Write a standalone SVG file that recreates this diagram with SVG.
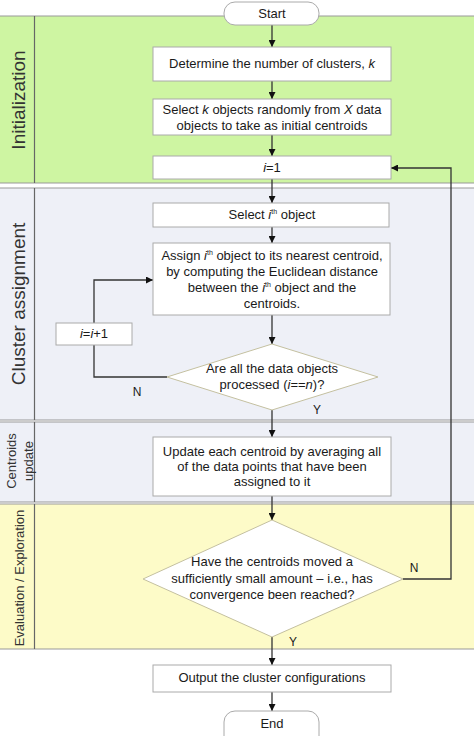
<svg xmlns="http://www.w3.org/2000/svg" width="474" height="736" viewBox="0 0 474 736">
<style>
text{font-family:"Liberation Sans",Arial,sans-serif;fill:#1a1a1a}
.t{font-size:13px;text-anchor:middle}
.lane{font-size:19px;text-anchor:middle;fill:#333}
.lane2{font-size:13px;text-anchor:middle;fill:#333}
.box{fill:#fff;stroke:#aaa;stroke-width:1}
.dia{fill:#fff;stroke:#c4c0a0;stroke-width:1}
.band{stroke:#999;stroke-width:1}
.div{stroke:#666;stroke-width:1.2}
.c{fill:none;stroke:#333;stroke-width:1.3}
.lbl{font-size:12px;text-anchor:middle}
</style>
<defs>
<marker id="ah" viewBox="0 0 10 10" refX="10" refY="5" markerWidth="7" markerHeight="7" markerUnits="userSpaceOnUse" orient="auto">
<path d="M0,0 L10,5 L0,10 z" fill="#111"/>
</marker>
</defs>
<rect width="474" height="736" fill="#fff"/>
<g id="lanes">
<rect class="band" x="-1" y="16" width="476" height="167" fill="#cef5a2"/>
<rect class="band" x="-1" y="188" width="476" height="232" fill="#eef0f7"/>
<rect class="band" x="-1" y="422" width="476" height="80" fill="#eef0f7"/>
<rect class="band" x="-1" y="504" width="476" height="145" fill="#fdfbc8"/>
<line class="div" x1="34.5" y1="16" x2="34.5" y2="183"/>
<line class="div" x1="34.5" y1="188" x2="34.5" y2="420"/>
<line class="div" x1="34.5" y1="422" x2="34.5" y2="502"/>
<line class="div" x1="34.5" y1="504" x2="34.5" y2="649"/>
<text class="lane" transform="translate(25,100) rotate(-90)">Initialization</text>
<text class="lane" transform="translate(25,304) rotate(-90)">Cluster assignment</text>
<text class="lane2" transform="translate(16,461) rotate(-90)">Centroids</text>
<text class="lane2" transform="translate(33,461) rotate(-90)">update</text>
<text class="lane2" transform="translate(24,578) rotate(-90)">Evaluation / Exploration</text>
</g>
<g id="connectors">
<line class="c" x1="272" y1="25" x2="272" y2="47" marker-end="url(#ah)"/>
<line class="c" x1="272" y1="81" x2="272" y2="99" marker-end="url(#ah)"/>
<line class="c" x1="272" y1="135" x2="272" y2="156" marker-end="url(#ah)"/>
<line class="c" x1="272" y1="179" x2="272" y2="203" marker-end="url(#ah)"/>
<line class="c" x1="272" y1="227" x2="272" y2="243" marker-end="url(#ah)"/>
<line class="c" x1="272" y1="315" x2="272" y2="344" marker-end="url(#ah)"/>
<line class="c" x1="272" y1="410" x2="272" y2="437" marker-end="url(#ah)"/>
<line class="c" x1="272" y1="496" x2="272" y2="520" marker-end="url(#ah)"/>
<line class="c" x1="272" y1="637" x2="272" y2="665" marker-end="url(#ah)"/>
<line class="c" x1="272" y1="692" x2="272" y2="711" marker-end="url(#ah)"/>
<polyline class="c" points="167,377 94,377 94,280 153,280" marker-end="url(#ah)"/>
<polyline class="c" points="403,579 451,579 451,168 391,168" marker-end="url(#ah)"/>
<text class="lbl" x="137" y="396">N</text>
<text class="lbl" x="317" y="414">Y</text>
<text class="lbl" x="414" y="572">N</text>
<text class="lbl" x="293" y="646">Y</text>
</g>
<g id="start">
<rect class="box" x="224" y="2" width="95" height="23" rx="11"/>
<text class="t" x="272" y="18">Start</text>
</g>
<g id="determine">
<rect class="box" x="153" y="47" width="238" height="34"/>
<text class="t" x="272" y="68">Determine the number of clusters, <tspan font-style="italic">k</tspan></text>
</g>
<g id="select-k">
<rect class="box" x="153" y="99" width="238" height="36"/>
<text class="t" x="272" y="114">Select <tspan font-style="italic">k</tspan> objects randomly from <tspan font-style="italic">X</tspan> data</text>
<text class="t" x="272" y="130">objects to take as initial centroids</text>
</g>
<g id="i-init">
<rect class="box" x="153" y="156" width="238" height="23"/>
<text class="t" x="272" y="172"><tspan font-style="italic">i</tspan>=1</text>
</g>
<g id="select-ith">
<rect class="box" x="153" y="203" width="236" height="24"/>
<text class="t" x="272" y="219">Select <tspan font-style="italic">i</tspan><tspan font-size="7" dy="-5">th</tspan><tspan dy="5"> object</tspan></text>
</g>
<g id="assign">
<rect class="box" x="153" y="243" width="237" height="72"/>
<text class="t" x="272" y="260">Assign <tspan font-style="italic">i</tspan><tspan font-size="7" dy="-5">th</tspan><tspan dy="5"> object to its nearest centroid,</tspan></text>
<text class="t" x="272" y="276">by computing the Euclidean distance</text>
<text class="t" x="272" y="292">between the <tspan font-style="italic">i</tspan><tspan font-size="7" dy="-5">th</tspan><tspan dy="5"> object and the</tspan></text>
<text class="t" x="272" y="308">centroids.</text>
</g>
<g id="increment">
<rect class="box" x="56" y="323" width="76" height="22"/>
<text class="t" x="94" y="338"><tspan font-style="italic">i</tspan>=<tspan font-style="italic">i</tspan>+1</text>
</g>
<g id="all-processed">
<polygon class="dia" points="272,344 378,377 272,410 167,377"/>
<text class="t" x="272" y="373">Are all the data objects</text>
<text class="t" x="272" y="389">processed (<tspan font-style="italic">i</tspan>==<tspan font-style="italic">n</tspan>)?</text>
</g>
<g id="update">
<rect class="box" x="153" y="437" width="238" height="59"/>
<text class="t" x="272" y="456">Update each centroid by averaging all</text>
<text class="t" x="272" y="471">of the data points that have been</text>
<text class="t" x="272" y="486">assigned to it</text>
</g>
<g id="convergence">
<polygon class="dia" points="272,520 403,579 272,637 143,579"/>
<text class="t" x="272" y="566">Have the centroids moved a</text>
<text class="t" x="272" y="583">sufficiently small amount – i.e., has</text>
<text class="t" x="272" y="599">convergence been reached?</text>
</g>
<g id="output">
<rect class="box" x="153" y="665" width="238" height="27"/>
<text class="t" x="272" y="682">Output the cluster configurations</text>
</g>
<g id="end">
<rect class="box" x="224" y="711" width="95" height="36" rx="11"/>
<text class="t" x="272" y="728">End</text>
</g>
</svg>
